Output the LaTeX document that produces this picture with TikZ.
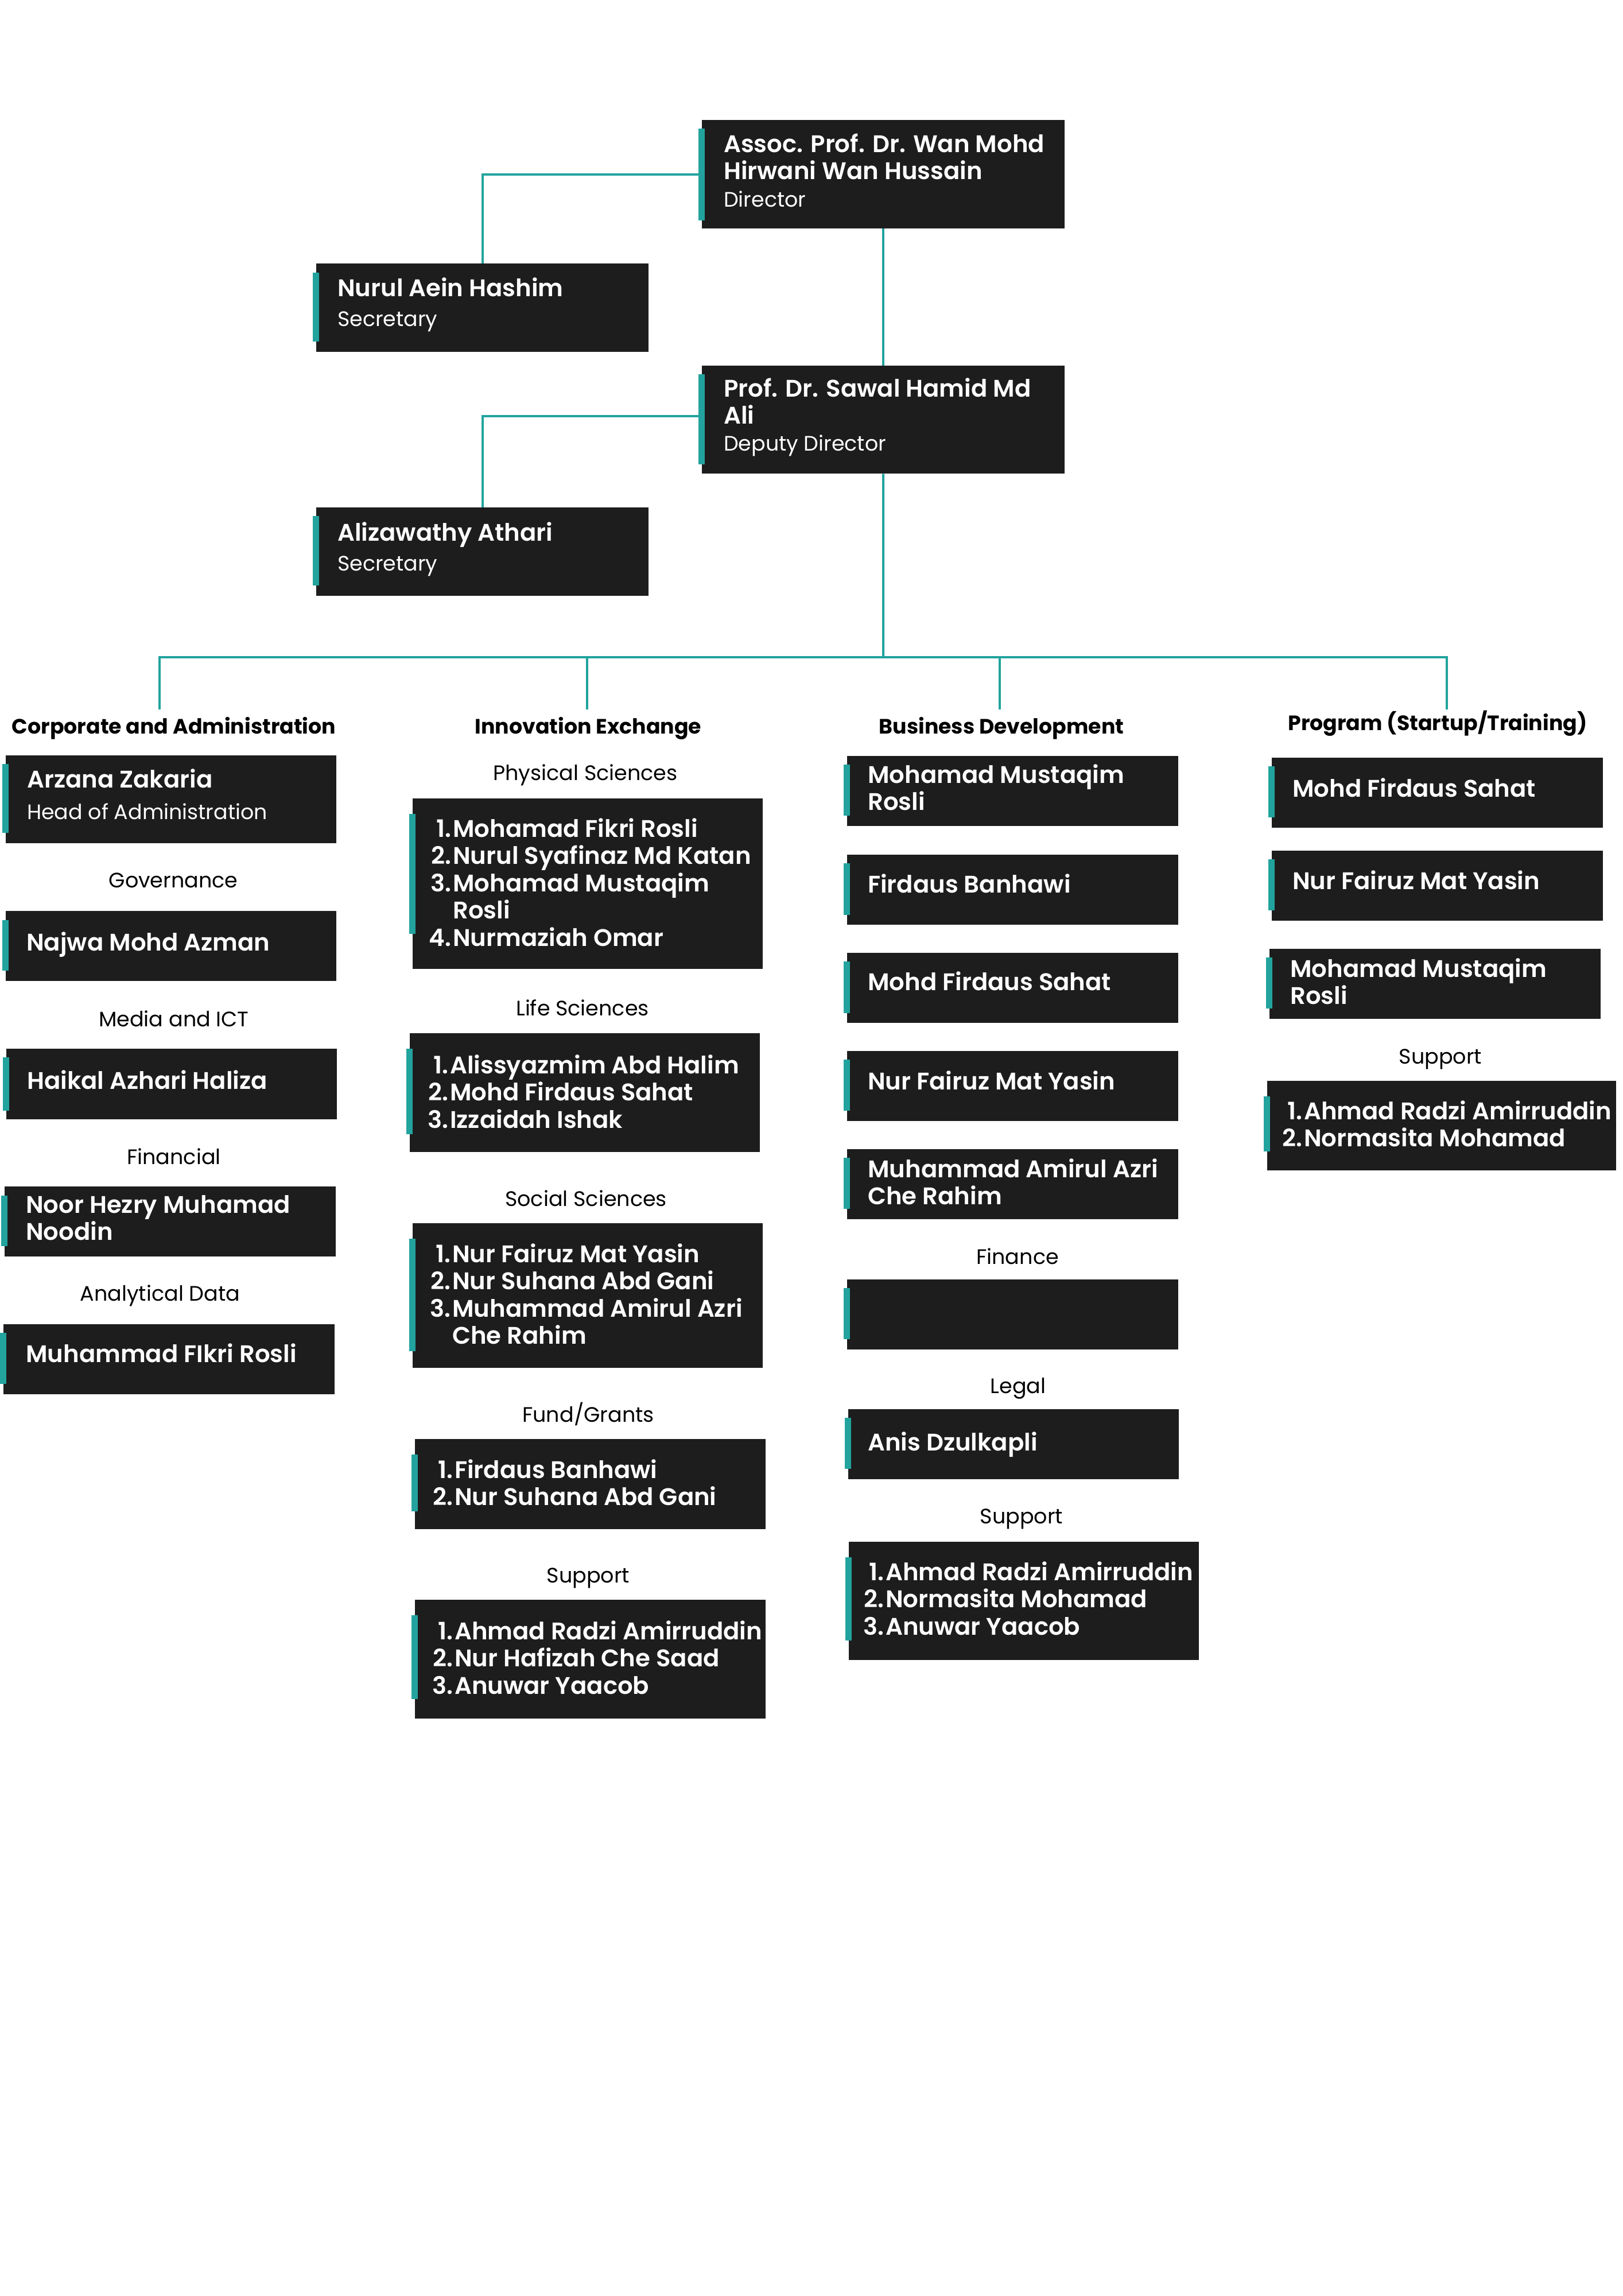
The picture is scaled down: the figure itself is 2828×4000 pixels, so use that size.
\documentclass[tikz,border=0pt]{standalone}
\usepackage{fontspec}
\setmainfont{Poppins}
\newfontfamily\semib{Poppins SemiBold}
\definecolor{cardbg}{HTML}{1D1D1D}
\definecolor{accent}{HTML}{22A39E}
\tikzset{
  card/.style={fill=cardbg, draw=none, anchor=north west, inner sep=0pt},
  accentbar/.style={accent, line width=11pt},
  link/.style={accent, line width=4pt},
  who/.style={anchor=base west, inner sep=0pt, text=white,
    font=\semib\fontsize{41.8}{47.5}\selectfont},
  role/.style={anchor=base west, inner sep=0pt, text=white,
    font=\fontsize{36.4}{44}\selectfont},
  dept/.style={anchor=base, inner sep=0pt, font=\bfseries\fontsize{36.3}{42}\selectfont},
  unit/.style={anchor=base, inner sep=0pt, font=\fontsize{36.5}{42}\selectfont},
}
% 卡片: 名称, 左上角, 宽, 高, 色条上下缩进
\newcommand\card[7]{%
  \node[card, minimum width=#4, minimum height=#5] (#1) at (#2,#3) {};
  \draw[accentbar] ([xshift=-0.5, yshift=-#6]#1.north west) -- ([xshift=-0.5, yshift=#7]#1.south west);
}
% 多行文字与编号
\newcommand\stack[1]{\begin{tabular}[t]{@{}l@{}}#1\end{tabular}}
\newcommand\nr[1]{\llap{#1\hspace{3pt}}}
\begin{document}
\begin{tikzpicture}[x=1pt,y=-1pt]
  \fill[white] (0,0) rectangle (2828,4000);
  % 主任
  \card{dir}{1223}{209}{632}{189}{15}{14}
  \node[who] (dir-n) at (1261,265) {\stack{Assoc. Prof. Dr. Wan Mohd\\Hirwani Wan Hussain}};
  \node[role] (dir-r) at (1261,360) {Director};
  % 秘书
  \card{sec1}{551}{459}{579}{154}{16}{18}
  \node[who] (sec1-n) at (588,516) {Nurul Aein Hashim};
  \node[role] (sec1-r) at (588,568) {Secretary};
  % 副主任
  \card{dep}{1223}{637}{632}{188}{15}{16}
  \node[who] (dep-n) at (1261,691) {\stack{Prof. Dr. Sawal Hamid Md\\Ali}};
  \node[role] (dep-r) at (1261,785) {Deputy Director};
  \card{sec2}{551}{884}{579}{154}{15}{18}
  \node[who] (sec2-n) at (588,942) {Alizawathy Athari};
  \node[role] (sec2-r) at (588,994) {Secretary};
  % 连线
  \draw[link] (dir.west) -| (sec1.north);
  \draw[link] (dir.south) -- (dep.north);
  \draw[link] ([yshift=6]dep.west) -| (sec2.north);
  \coordinate (bus) at (1539,1145);
  \coordinate (corp) at (278,1236);
  \coordinate (inno) at (1023,1236);
  \coordinate (biz) at (1742,1236);
  \coordinate (prog) at (2521,1236);
  \draw[link] (dep.south) -- (bus);
  \draw[link] (corp) |- (bus) -| (prog);
  \draw[link] (inno) -- (inno |- bus);
  \draw[link] (biz) -- (biz |- bus);
  % 部门
  \node[dept] (corp-h) at (303,1278) {Corporate and Administration};
  \node[dept] (inno-h) at (1025,1278) {Innovation Exchange};
  \node[dept] (biz-h) at (1745,1278) {Business Development};
  \node[dept] (prog-h) at (2505,1272) {Program (Startup/Training)};
  % 行政
  \card{arzana}{10}{1316}{576}{153}{15}{18}
  \node[who] (arzana-n) at (47,1372) {Arzana Zakaria};
  \node[role] (arzana-r) at (47,1427) {Head of Administration};
  \node[unit] (gov) at (302,1546) {Governance};
  \card{najwa}{10}{1587}{576}{122}{16}{18}
  \node[who] (najwa-n) at (46,1656) {Najwa Mohd Azman};
  \node[unit] (media) at (303,1788) {Media and ICT};
  \card{haikal}{11}{1827}{576}{123}{15}{15}
  \node[who] (haikal-n) at (47,1897) {Haikal Azhari Haliza};
  \node[unit] (fin) at (303,2028) {Financial};
  \card{noor}{8}{2067}{577}{122}{16}{18}
  \node[who] (noor-n) at (45,2113) {\stack{Noor Hezry Muhamad\\Noodin}};
  \node[unit] (data) at (279,2266) {Analytical Data};
  \card{fikri}{6}{2307}{577}{122}{15}{18}
  \node[who] (fikri-n) at (45,2373) {Muhammad FIkri Rosli};
  % 创新
  \node[unit] (phys) at (1020,1359) {Physical Sciences};
  \card{physlist}{719}{1391}{610}{297}{27}{61}
  \node[who] (physlist-n) at (789,1458) {\stack{\nr{1.}Mohamad Fikri Rosli\\\nr{2.}Nurul Syafinaz Md Katan\\\nr{3.}Mohamad Mustaqim\\Rosli\\\nr{4.}Nurmaziah Omar}};
  \node[unit] (life) at (1015,1769) {Life Sciences};
  \card{lifelist}{714}{1800}{610}{207}{27}{31}
  \node[who] (lifelist-n) at (784,1870) {\stack{\nr{1.}Alissyazmim Abd Halim\\\nr{2.}Mohd Firdaus Sahat\\\nr{3.}Izzaidah Ishak}};
  \node[unit] (soc) at (1021,2101) {Social Sciences};
  \card{soclist}{719}{2131}{610}{252}{27}{29}
  \node[who] (soclist-n) at (788,2199) {\stack{\nr{1.}Nur Fairuz Mat Yasin\\\nr{2.}Nur Suhana Abd Gani\\\nr{3.}Muhammad Amirul Azri\\Che Rahim}};
  \node[unit] (fund) at (1025,2477) {Fund/Grants};
  \card{fundlist}{723}{2507}{611}{157}{27}{31}
  \node[who] (fundlist-n) at (792,2575) {\stack{\nr{1.}Firdaus Banhawi\\\nr{2.}Nur Suhana Abd Gani}};
  \node[unit] (sup2) at (1025,2757) {Support};
  \card{sup2list}{723}{2787}{611}{207}{27}{34}
  \node[who] (sup2list-n) at (792,2856) {\stack{\nr{1.}Ahmad Radzi Amirruddin\\\nr{2.}Nur Hafizah Che Saad\\\nr{3.}Anuwar Yaacob}};
  % 商业发展
  \card{must3}{1476}{1317}{577}{122}{15}{18}
  \node[who] (must3-n) at (1512,1364) {\stack{Mohamad Mustaqim\\Rosli}};
  \card{firdaus3}{1476}{1489}{577}{122}{15}{17}
  \node[who] (firdaus3-n) at (1512,1555) {Firdaus Banhawi};
  \card{sahat3}{1476}{1660}{577}{122}{15}{17}
  \node[who] (sahat3-n) at (1512,1725) {Mohd Firdaus Sahat};
  \card{fairuz3}{1476}{1831}{577}{122}{15}{18}
  \node[who] (fairuz3-n) at (1512,1898) {Nur Fairuz Mat Yasin};
  \card{amirul3}{1476}{2002}{577}{122}{15}{18}
  \node[who] (amirul3-n) at (1512,2051) {\stack{Muhammad Amirul Azri\\Che Rahim}};
  \node[unit] (finance) at (1773,2202) {Finance};
  \card{fin3}{1476}{2229}{577}{122}{15}{18}
  \node[unit] (legal) at (1774,2427) {Legal};
  \card{anis}{1478}{2455}{576}{122}{15}{18}
  \node[who] (anis-n) at (1512,2527) {Anis Dzulkapli};
  \node[unit] (sup3) at (1780,2654) {Support};
  \card{sup3list}{1479}{2686}{610}{206}{27}{34}
  \node[who] (sup3list-n) at (1543,2753) {\stack{\nr{1.}Ahmad Radzi Amirruddin\\\nr{2.}Normasita Mohamad\\\nr{3.}Anuwar Yaacob}};
  % 培训项目
  \card{sahat4}{2216}{1320}{577}{122}{15}{18}
  \node[who] (sahat4-n) at (2252,1388) {Mohd Firdaus Sahat};
  \card{fairuz4}{2216}{1482}{577}{122}{15}{18}
  \node[who] (fairuz4-n) at (2252,1549) {Nur Fairuz Mat Yasin};
  \card{must4}{2212}{1653}{577}{122}{15}{18}
  \node[who] (must4-n) at (2248,1702) {\stack{Mohamad Mustaqim\\Rosli}};
  \node[unit] (sup4) at (2510,1853) {Support};
  \card{sup4list}{2208}{1883}{608}{156}{27}{33}
  \node[who] (sup4list-n) at (2272,1950) {\stack{\nr{1.}Ahmad Radzi Amirruddin\\\nr{2.}Normasita Mohamad}};
\end{tikzpicture}
\end{document}
